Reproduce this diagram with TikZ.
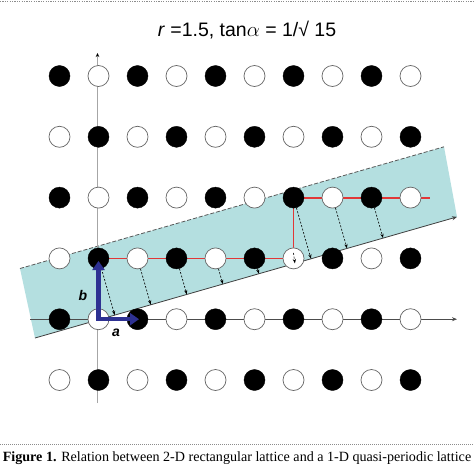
\documentclass[tikz,border=0pt]{standalone}
\usepackage{fontspec}
\setmainfont{Liberation Serif}
\setsansfont{Liberation Sans}
\usetikzlibrary{arrows.meta,calc}
\pgfdeclarelayer{back}
\pgfdeclarelayer{mid}
\pgfsetlayers{back,mid,main}
\definecolor{bandcol}{RGB}{180,223,224}
\definecolor{vecblue}{RGB}{46,49,146}
\definecolor{redline}{RGB}{225,55,55}
\tikzset{
  blk/.style={circle,fill=black,draw=black,line width=0.4pt,minimum size=21pt,inner sep=0pt},
  wht/.style={circle,fill=white,draw=black!60,line width=0.7pt,minimum size=21pt,inner sep=0pt},
  projarrow/.style={draw=black,line width=0.6pt,dash pattern=on 2pt off 1.6pt,-{Stealth[length=4.5pt,width=3.2pt]}},
  vec/.style={draw=vecblue,line width=4.2pt,-{Triangle[length=9pt,width=12pt]}},
  veclabel/.style={font=\sffamily\bfseries\itshape\fontsize{14}{16}\selectfont},
  redpath/.style={draw=redline,line width=1.8pt},
}
\begin{document}
\begin{tikzpicture}[x=1pt,y=-1pt]
\useasboundingbox (0,0) rectangle (474,474);
\begin{pgfonlayer}{back}
\fill[white] (0,0) rectangle (474,474);
\end{pgfonlayer}
% frame dotted lines
\draw[black!45,line width=1.3pt,dash pattern=on 1.2pt off 1.2pt] (0,1.5) -- (474,1.5);
\draw[black!45,line width=0.7pt,dash pattern=on 1pt off 1pt] (0,444) -- (474,444);
% title
\node[font=\sffamily\fontsize{19.5}{22}\selectfont] (title) at (247,30) {\textit{r} =1.5, tan$\alpha$ = 1/√ 15};
% band
\coordinate (TL) at (20,268.5);
\coordinate (TR) at (444,146.8);
\coordinate (BR) at (457,216.9);
\coordinate (BL) at (35,338);
\begin{pgfonlayer}{back}
\fill[bandcol] (TL) -- (TR) -- (BR) -- (BL) -- cycle;
\draw[black!65,line width=0.8pt,dash pattern=on 4pt off 2pt] (TL) -- (TR);
\draw[black!75,line width=0.8pt,-{Stealth[length=5pt,width=4pt]}] (BL) -- (BR);
\end{pgfonlayer}
% axes
\coordinate (xs) at (30,319.2);
\coordinate (xe) at (457,319.2);
\coordinate (ys) at (97.5,403);
\coordinate (ye) at (97.5,53);
\begin{pgfonlayer}{back}
\draw[black!70,line width=0.8pt,-{Stealth[length=5pt,width=4pt]}] (xs) -- (xe);
\draw[black!35,line width=1.2pt,-{Stealth[length=4pt,width=3.5pt,black]}] (ys) -- (ye);
\end{pgfonlayer}
% lattice
\foreach \i in {0,...,9}{
  \foreach \j in {0,...,5}{
    \pgfmathtruncatemacro\s{\i+\j}
    \ifodd\s
      \node[wht] (c-\i-\j) at ({59.5+39*\i},{76+60.8*\j}) {};
    \else
      \node[blk] (c-\i-\j) at ({59.5+39*\i},{76+60.8*\j}) {};
    \fi
  }
}
% red path
\coordinate (rend) at (430,197.6);
\begin{pgfonlayer}{mid}
\draw[redpath] (c-1-3.center) -- (c-6-3.center) -- (c-6-2.center) -- (rend);
\end{pgfonlayer}
% projection arrows
\foreach \i/\j in {1/3,2/3,3/3,4/3,5/3,6/2,7/2,8/2}{
  \draw[projarrow] (c-\i-\j) -- ($(BL)!(c-\i-\j)!(BR)$);
}
\draw[projarrow] ($(c-6-3.center)!0.5!(c-6-3.north)$) -- ($(BL)!(c-6-3)!(BR)$);
% basis vectors
\coordinate (O) at (98.5,319.2);
\coordinate (atip) at (139,319.2);
\coordinate (btip) at (98.5,261);
\draw[vec] ([xshift=-2.1pt]O) -- (atip);
\draw[vec] ([yshift=2.1pt]O) -- (btip);
\node[veclabel] (lb) at (83,295) {b};
\node[veclabel] (la) at (116,333) {a};
% caption
\node[font=\fontsize{14.1}{17}\selectfont] (cap) at (237,458) {\textbf{Figure 1.} Relation between 2-D rectangular lattice and a 1-D quasi-periodic lattice};
\end{tikzpicture}
\end{document}
